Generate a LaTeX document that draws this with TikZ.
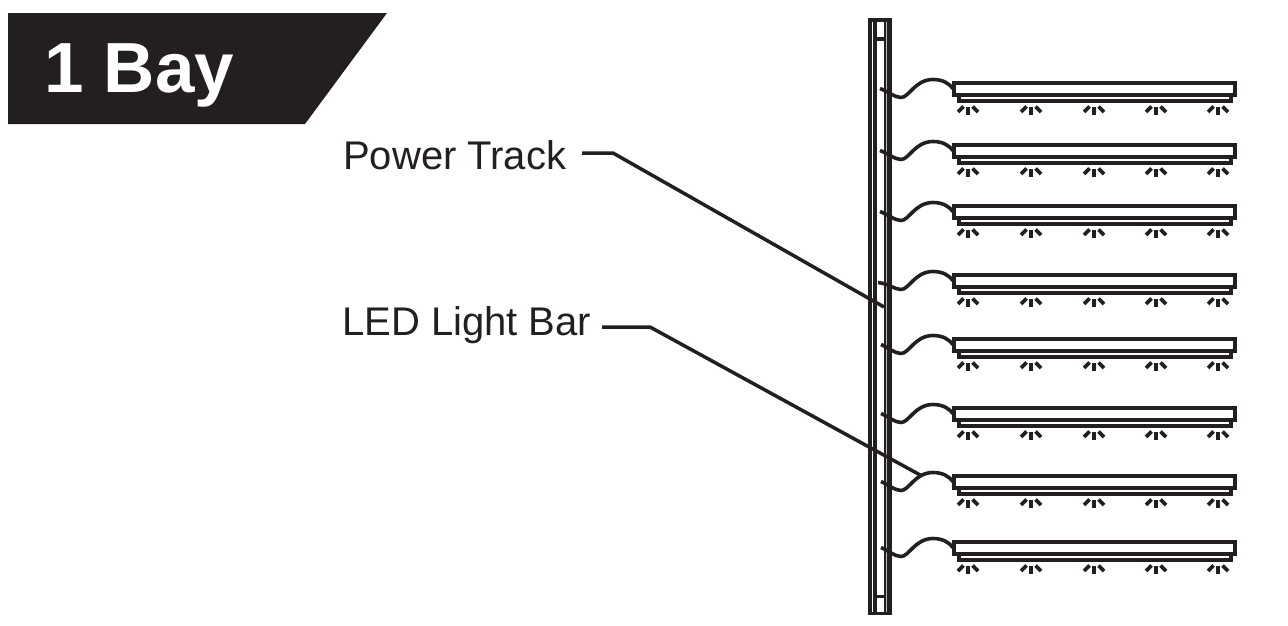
\documentclass[tikz,border=0pt]{standalone}
\usepackage{fontspec}
\setmainfont{Liberation Sans}
\definecolor{ink}{HTML}{231F20}
\tikzset{
  wire/.style={draw=ink,line width=3.6pt,line cap=butt,line join=round},
  barline/.style={draw=ink,line width=4pt,line join=miter},
  glow/.style={draw=ink,line width=3.8pt},
  leader/.style={draw=ink,line width=3.5pt,line join=round},
  callout/.style={text=ink,font=\fontsize{40}{41}\selectfont,anchor=base west,inner sep=0pt},
  banner/.style={fill=ink,draw=none},
  bannertext/.style={text=white,font=\fontsize{71}{71}\selectfont\bfseries,anchor=base west,inner sep=0pt}
}
\begin{document}
\begin{tikzpicture}[x=1pt,y=-1pt]
\useasboundingbox (0,0) rectangle (1288,625);
% banner
\fill[banner] (8,13) -- (387,13) -- (305,124) -- (8,124) -- cycle;
\node[bannertext] (title) at (44.5,92.5) {1 Bay};
% track
\fill[ink] (868,18) rectangle (892.3,615);
\fill[white] (876.6,22) rectangle (884,612);
\fill[ink] (876.6,37) rectangle (884,41);
\fill[ink] (876.6,595) rectangle (884,598);
\draw[white,line width=1.2pt] (872.6,22) -- (872.6,612);
\draw[white!70!ink,line width=1.2pt] (886.8,22) -- (886.8,612);
% light bars
\foreach \T/\sx/\dy in {82.5/880/6,144.5/880/6,205.5/880/6,274.5/878/8,338.5/881/6,407.5/881/6,475.5/881/6,541.5/881/6}{
  \draw[wire] (\sx,\T+\dy) .. controls (888,\T+9) and (895,\T+15) .. (901,\T+15)
     .. controls (909,\T+15) and (915,\T-3) .. (933,\T-3)
     .. controls (943,\T-3) and (949,\T+1) .. (953,\T+6);
  \draw[barline,fill=white] (954,\T) rectangle (1235,\T+12);
  \draw[barline] (958.5,\T+12) -- (958.5,\T+18) -- (1231,\T+18) -- (1231,\T+12);
  \foreach \x in {968,1031,1094,1156,1218}{
    \draw[glow] (\x,\T+24.5) -- (\x,\T+32);
    \draw[glow] (\x-10,\T+29.5) -- (\x-4.5,\T+24);
    \draw[glow] (\x+10,\T+29.5) -- (\x+4.5,\T+24);
  }
}
% callouts
\node[callout] (power) at (343,169) {Power Track};
\node[callout] (led) at (342,335) {LED Light Bar};
\coordinate (pa) at (582,153);
\coordinate (pb) at (613,153);
\coordinate (pc) at (884,307);
\coordinate (la) at (602,327);
\coordinate (lb) at (650,327);
\coordinate (lc) at (922,476);
\draw[leader] (pa) -- (pb) -- (pc);
\draw[leader] (la) -- (lb) -- (lc);
\end{tikzpicture}
\end{document}
